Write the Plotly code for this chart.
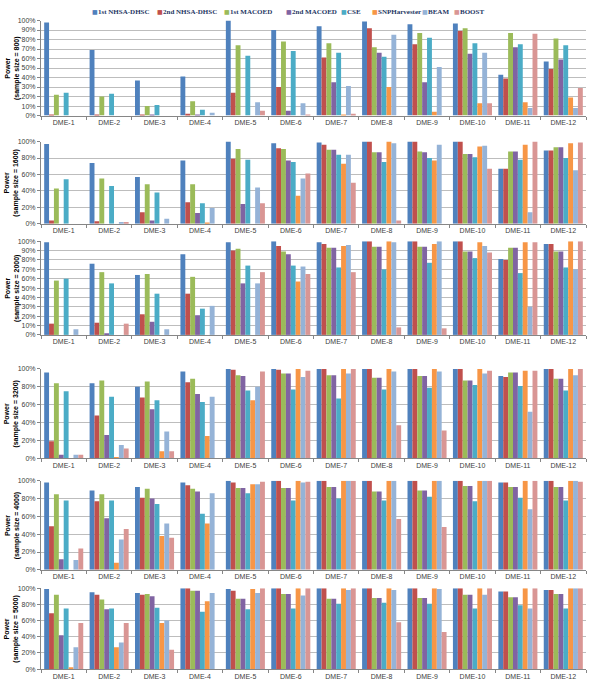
import plotly.graph_objects as go

# categories and series
categories = ["DME-%d" % i for i in range(1, 13)]
methods = ["1st NHSA-DHSC", "2nd NHSA-DHSC", "1st MACOED", "2nd MACOED",
           "CSE", "SNPHarvester", "BEAM", "BOOST"]
colors = ["#4F81BD", "#C0504D", "#9BBB59", "#8064A2",
          "#4BACC6", "#F79646", "#95B3D7", "#D99694"]
sample_sizes = [800, 1600, 2000, 3200, 4000, 5000]

# power values (%), one row per method, DME-1 .. DME-12
power_800 = [
    [98, 69, 37, 41, 100, 90, 94, 99, 96, 97, 43, 57],
    [1, 1, 1, 2, 24, 30, 61, 92, 75, 89, 39, 49],
    [22, 20, 10, 15, 74, 78, 76, 72, 87, 92, 87, 81],
    [0, 0, 1, 1, 0, 5, 35, 66, 35, 65, 72, 59],
    [24, 23, 11, 6, 63, 68, 66, 62, 82, 76, 75, 74],
    [0, 0, 0, 0, 0, 0, 1, 30, 4, 13, 14, 19],
    [0, 0, 0, 3, 14, 13, 31, 85, 51, 66, 8, 8],
    [0, 0, 0, 0, 5, 1, 2, 0, 0, 13, 86, 29],
]
power_1600 = [
    [97, 74, 57, 77, 100, 98, 99, 100, 100, 100, 67, 89],
    [4, 3, 14, 26, 79, 92, 96, 100, 100, 100, 67, 89],
    [43, 55, 48, 48, 91, 91, 90, 87, 88, 85, 88, 93],
    [0, 0, 4, 13, 24, 77, 90, 87, 87, 85, 88, 93],
    [54, 46, 38, 25, 78, 75, 84, 75, 80, 81, 78, 80],
    [0, 0, 0, 1, 0, 34, 73, 100, 77, 94, 96, 98],
    [0, 2, 6, 19, 44, 55, 84, 98, 96, 95, 14, 65],
    [0, 2, 0, 0, 25, 61, 50, 4, 0, 67, 100, 99],
]
power_2000 = [
    [99, 76, 64, 86, 99, 100, 99, 100, 100, 100, 81, 97],
    [12, 13, 22, 44, 90, 95, 97, 100, 100, 100, 80, 97],
    [58, 67, 65, 62, 92, 89, 93, 94, 94, 89, 93, 89],
    [0, 1, 14, 21, 55, 86, 93, 94, 94, 89, 93, 89],
    [60, 55, 44, 28, 74, 74, 72, 70, 77, 82, 66, 72],
    [0, 0, 0, 0, 0, 57, 95, 100, 97, 99, 99, 100],
    [6, 0, 6, 31, 55, 73, 96, 99, 100, 95, 30, 70],
    [0, 12, 0, 0, 67, 65, 67, 8, 7, 88, 99, 100],
]
power_3200 = [
    [96, 84, 80, 97, 100, 100, 100, 100, 100, 100, 92, 100],
    [19, 48, 68, 85, 99, 99, 100, 100, 100, 100, 91, 100],
    [84, 87, 86, 89, 93, 95, 93, 90, 92, 87, 96, 89],
    [4, 26, 55, 72, 92, 95, 93, 90, 92, 87, 96, 89],
    [75, 69, 65, 63, 76, 77, 67, 77, 79, 82, 81, 76],
    [0, 1, 8, 25, 65, 100, 100, 100, 100, 100, 98, 100],
    [4, 15, 30, 69, 80, 91, 95, 97, 97, 95, 52, 93],
    [4, 11, 8, 0, 97, 98, 100, 37, 31, 98, 98, 100],
]
power_4000 = [
    [98, 89, 93, 98, 100, 100, 100, 100, 100, 100, 98, 100],
    [49, 77, 81, 95, 98, 100, 100, 100, 100, 100, 98, 100],
    [85, 85, 91, 91, 92, 92, 93, 88, 89, 94, 93, 93],
    [12, 58, 80, 88, 92, 92, 93, 88, 89, 94, 93, 93],
    [78, 78, 74, 63, 86, 78, 80, 78, 82, 77, 81, 78],
    [0, 8, 38, 52, 96, 100, 100, 100, 100, 100, 100, 100],
    [11, 34, 52, 86, 96, 98, 100, 100, 100, 100, 68, 100],
    [24, 46, 36, 0, 99, 99, 100, 57, 48, 100, 100, 99],
]
power_5000 = [
    [99, 95, 94, 100, 99, 100, 100, 100, 100, 100, 96, 98],
    [69, 92, 92, 100, 97, 100, 100, 100, 100, 100, 96, 98],
    [92, 86, 93, 97, 87, 93, 87, 88, 88, 92, 89, 93],
    [42, 74, 90, 97, 87, 93, 87, 88, 88, 92, 89, 93],
    [75, 75, 76, 71, 74, 75, 81, 82, 81, 75, 79, 75],
    [2, 27, 57, 84, 99, 100, 100, 100, 100, 100, 100, 100],
    [27, 33, 60, 94, 94, 91, 98, 98, 99, 92, 75, 100],
    [57, 57, 24, 0, 100, 100, 100, 58, 46, 100, 100, 100],
]
panels = [power_800, power_1600, power_2000, power_3200, power_4000, power_5000]
y_steps = [0.1, 0.2, 0.1, 0.2, 0.2, 0.2]

W, H = 589, 685
L, R = 41, 3
PW = W - L - R
# panel top/bottom in pixels (100% line, 0% line)
panel_px = [(16.7, 112.7), (139, 222), (239.7, 334.3),
            (368.7, 459), (481.7, 571.7), (590.3, 672)]

tick_font = dict(family="Liberation Sans, Arial", size=7, color="#404040")

fig = go.Figure()
layout = {}
annotations = []
for p, vals in enumerate(panels):
    n = "" if p == 0 else str(p + 1)
    for m, name in enumerate(methods):
        fig.add_trace(go.Bar(
            x=categories, y=[v / 100 for v in vals[m]], name=name,
            marker=dict(color=colors[m], line=dict(width=0)),
            xaxis="x" + n, yaxis="y" + n, showlegend=False,
        ))
    top, bot = panel_px[p]
    layout["xaxis" + n] = dict(
        domain=[0, 1], anchor="y" + n, showline=True, linecolor="#868686",
        ticks="outside", tickson="boundaries", ticklen=3, tickcolor="#868686",
        tickfont=tick_font, showgrid=False,
    )
    layout["yaxis" + n] = dict(
        domain=[1 - bot / H, 1 - top / H], anchor="x" + n, range=[0, 1],
        dtick=y_steps[p], tickformat=".0%", showline=True, linecolor="#868686",
        ticks="outside", ticklen=3, tickcolor="#868686", tickfont=tick_font,
        gridcolor="#BDBDBD", gridwidth=1, zeroline=False,
    )
    annotations.append(dict(
        text="<b>Power<br>(sample size = %d)</b>" % sample_sizes[p],
        textangle=-90, xref="paper", yref="paper",
        x=(12 - L) / PW, y=1 - (top + bot) / 2 / H,
        xanchor="center", yanchor="middle", showarrow=False,
        font=dict(family="Liberation Sans, Arial", size=7, color="#000000"),
    ))

# legend drawn as a row of squares + labels at the top
square_px = [90, 155, 222, 284, 339, 370, 420, 452]
label_px = [96, 161, 228, 290, 345, 376, 426, 458]
for m, name in enumerate(methods):
    annotations.append(dict(
        text="■", xref="paper", yref="paper",
        x=(square_px[m] - L) / PW, y=1 - 8 / H,
        xanchor="left", yanchor="middle", showarrow=False,
        font=dict(family="DejaVu Sans", size=6, color=colors[m]),
    ))
    annotations.append(dict(
        text="<b>%s</b>" % name, xref="paper", yref="paper",
        x=(label_px[m] - L) / PW, y=1 - 8 / H,
        xanchor="left", yanchor="middle", showarrow=False,
        font=dict(family="Liberation Serif, Times New Roman", size=7, color="#1F3864"),
    ))

fig.update_layout(
    width=W, height=H, margin=dict(l=L, r=R, t=0, b=0),
    paper_bgcolor="white", plot_bgcolor="white",
    barmode="group", bargap=0.14, bargroupgap=0,
    annotations=annotations, **layout,
)

fig.write_html("out.html", config={"displayModeBar": False},
               post_script="document.body.style.margin='0px';")
